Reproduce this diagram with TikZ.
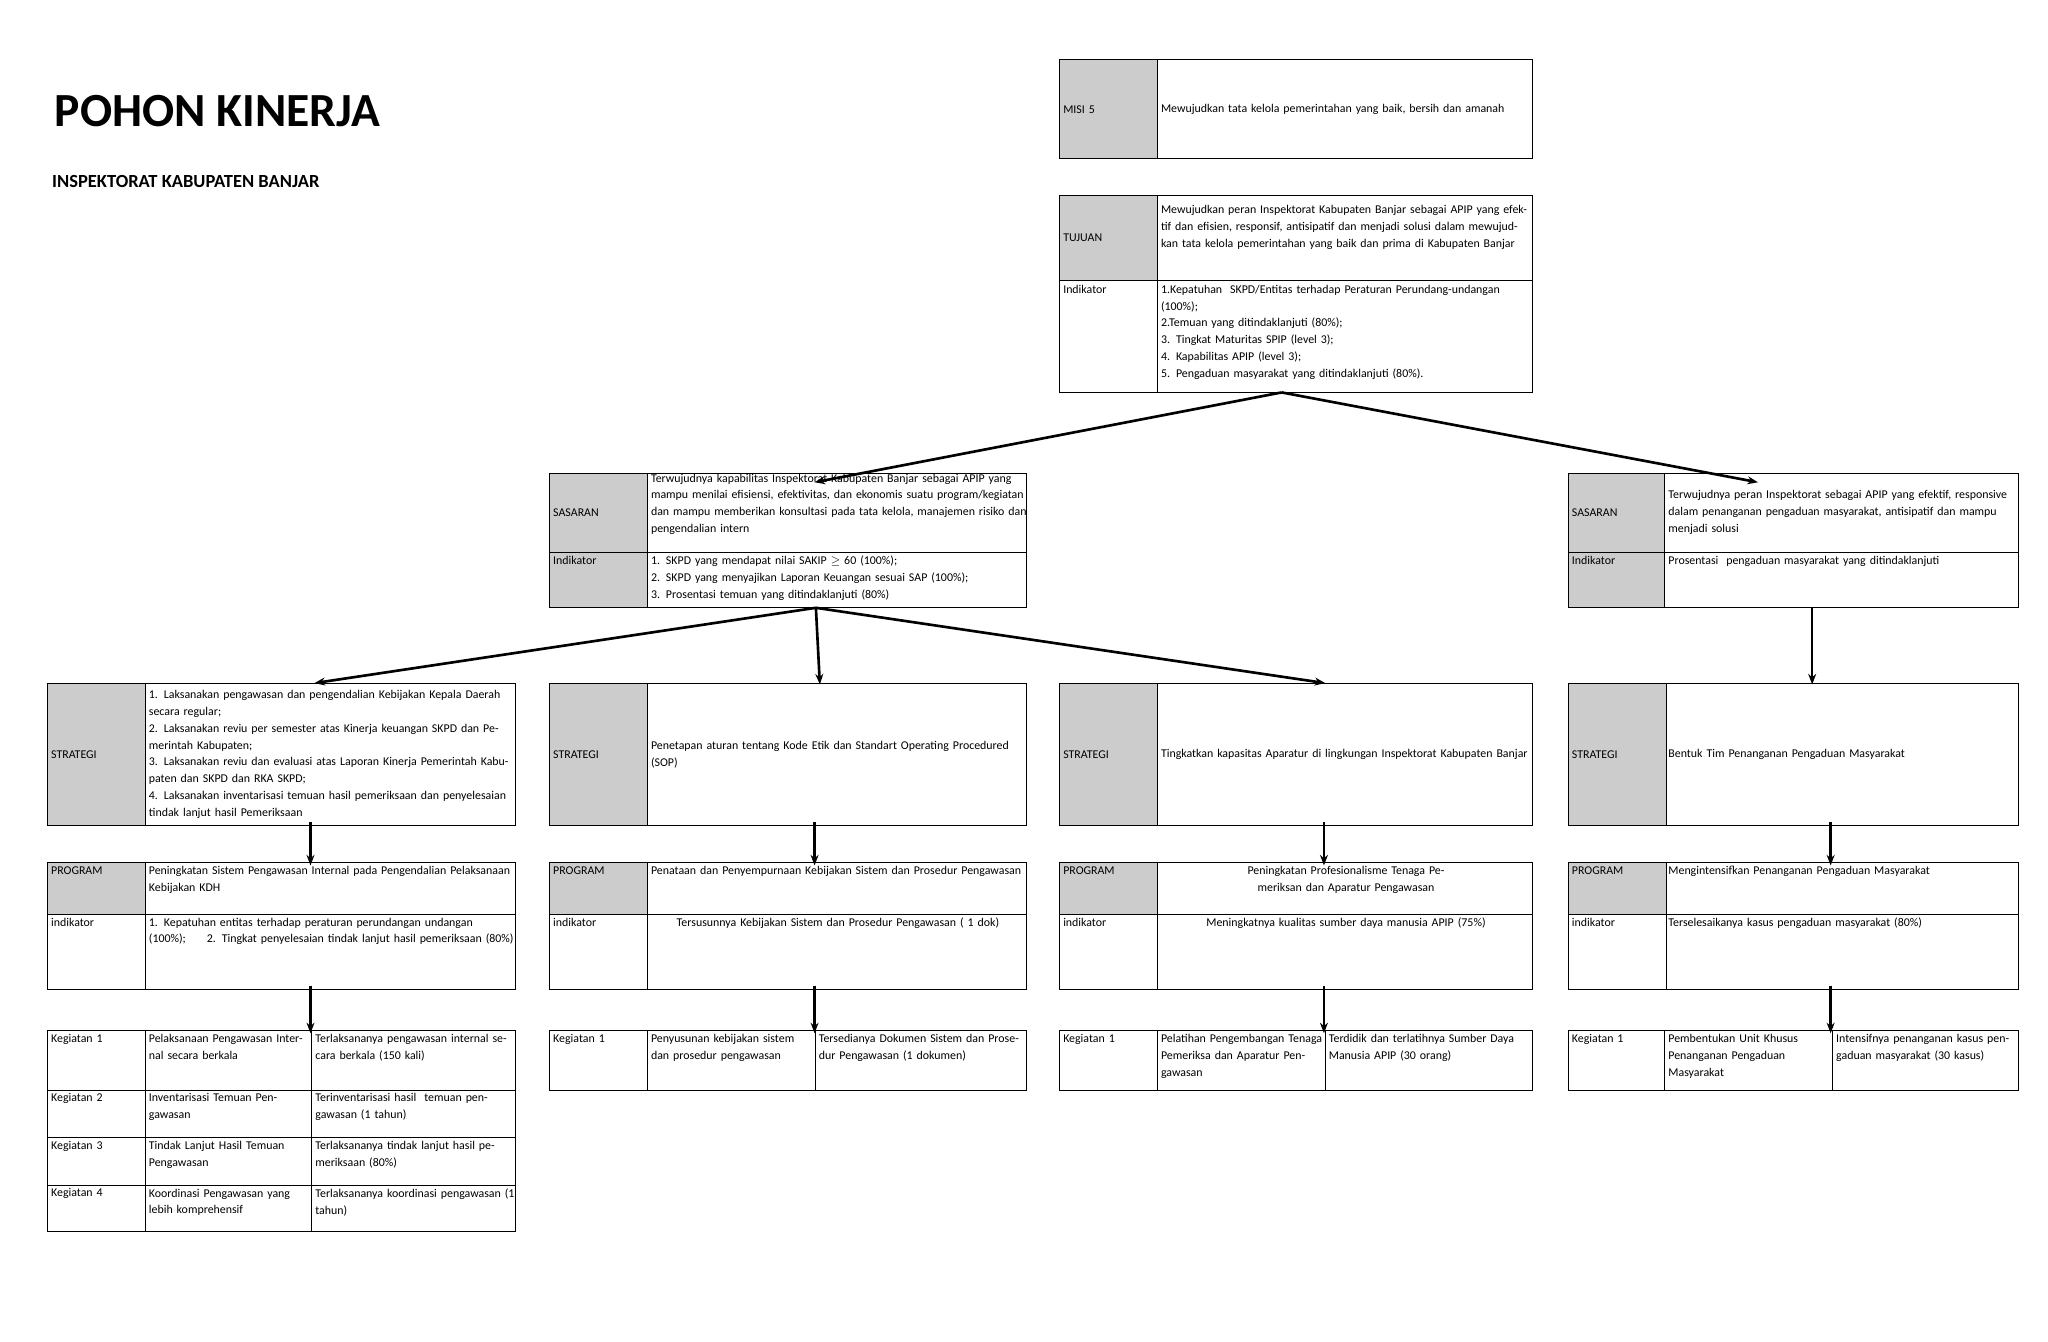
\documentclass[tikz,border=0pt]{standalone}
\usepackage{fontspec}
\setmainfont{Carlito}
\usetikzlibrary{arrows.meta}
\newcommand{\bx}[6]{%
 \pgfmathsetmacro\bw{#4-#2}\pgfmathsetmacro\bh{#5-#3}%
 \node[cellb,fill=#6,minimum width=\bw pt,minimum height=\bh pt] (#1) at (#2,#3) {};}
\newcommand{\tx}[4]{\node[txt,anchor=north west,text width=#3pt] at (#1+1,#2+1) {#4};}
\newcommand{\tc}[4]{\node[txt,anchor=west,text width=#3pt] at (#1+1,#2) {#4};}
\newcommand{\tm}[4]{\node[txt,anchor=north west,text width=#3pt,align=center] at (#1+1,#2+1) {#4};}
\begin{document}
\begin{tikzpicture}[x=1pt,y=-1pt,
 cellb/.style={draw,line width=0.8pt,anchor=north west,inner sep=0pt,outer sep=0pt},
 txt/.style={inner sep=1.5pt,align=left,font=\fontsize{9}{12.7}\selectfont},
 arr/.style={-{Stealth[length=8pt,width=6pt]},line width=2pt}]
\useasboundingbox (0,0) rectangle (1550,1015);
\definecolor{gr}{gray}{0.8}
\node[anchor=west,font=\bfseries\fontsize{36}{40}\selectfont] at (38,84) {POHON KINERJA};
\node[anchor=west,font=\bfseries\fontsize{14}{16}\selectfont] at (36,137) {INSPEKTORAT KABUPATEN BANJAR};
% MISI
\bx{misi}{802}{45}{1160}{120}{white}
\bx{misil}{802}{45}{876}{120}{gr}
\tc{802}{83}{70}{MISI 5}
\tc{876}{83}{280}{Mewujudkan tata kelola pemerintahan yang baik, bersih dan amanah}
% TUJUAN
\bx{tuj}{802}{148}{1160}{297}{white}
\bx{tujl}{802}{148}{876}{212}{gr}
\draw[line width=0.8pt] (802,212) -- (1160,212);
\draw[line width=0.8pt] (876,212) -- (876,297);
\tc{802}{180}{70}{TUJUAN}
\tx{876}{153}{280}{Mewujudkan peran Inspektorat Kabupaten Banjar sebagai APIP yang efektif dan efisien, responsif, antisipatif dan menjadi solusi dalam mewujudkan tata kelola pemerintahan yang baik dan prima di Kabupaten Banjar}
\tx{802}{213}{70}{Indikator}
\tx{876}{213}{282}{1.Kepatuhan~ SKPD/Entitas terhadap Peraturan Perundang-undangan (100\%);\\2.Temuan yang ditindaklanjuti (80\%);\\3. Tingkat Maturitas SPIP (level 3);\\4. Kapabilitas APIP (level 3);\\5. Pengaduan masyarakat yang ditindaklanjuti (80\%).}
% SASARAN L
\bx{sasL}{416}{358}{777}{460}{white}
\bx{sasLa}{416}{358}{490}{418}{gr}
\bx{sasLb}{416}{418}{490}{460}{gr}
\draw[line width=0.8pt] (490,418) -- (777,418);
\tc{416}{388}{70}{SASARAN}
\tx{490}{356}{285}{Terwujudnya kapabilitas Inspektorat Kabupaten Banjar sebagai APIP yang mampu menilai efisiensi, efektivitas, dan ekonomis suatu program/kegiatan dan mampu memberikan konsultasi pada tata kelola, manajemen risiko dan pengendalian intern}
\tx{416}{418}{70}{Indikator}
\tx{490}{418}{285}{1. SKPD yang mendapat nilai SAKIP $\geq$ 60 (100\%);\\2. SKPD yang menyajikan Laporan Keuangan sesuai SAP (100\%);\\3. Prosentasi temuan yang ditindaklanjuti (80\%)}
% SASARAN R
\bx{sasR}{1187}{358}{1528}{460}{white}
\bx{sasRa}{1187}{358}{1260}{418}{gr}
\bx{sasRb}{1187}{418}{1260}{460}{gr}
\draw[line width=0.8pt] (1260,418) -- (1528,418);
\tc{1187}{388}{70}{SASARAN}
\tc{1260}{388}{265}{Terwujudnya peran Inspektorat sebagai APIP yang efektif, responsive dalam penanganan pengaduan masyarakat, antisipatif dan mampu menjadi solusi}
\tx{1187}{418}{70}{Indikator}
\tx{1260}{418}{265}{Prosentasi~ pengaduan masyarakat yang ditindaklanjuti}
% STRATEGI
\foreach \n/\a/\b in {1/36/390,2/416/777,3/802/1160,4/1187/1528}{
 \pgfmathsetmacro\c{\a+74}
 \bx{str\n}{\a}{517}{\b}{625}{white}
 \bx{strl\n}{\a}{517}{\c}{625}{gr}
 \tc{\a}{571}{70}{STRATEGI}
 \bx{prg\n}{\a}{653}{\b}{749}{white}
 \bx{prgl\n}{\a}{653}{\c}{692}{gr}
 \draw[line width=0.8pt] (\a,692) -- (\b,692);
 \draw[line width=0.8pt] (\c,692) -- (\c,749);
 \tx{\a}{653}{70}{PROGRAM}
 \tx{\a}{692}{70}{indikator}
}
\tc{110}{571}{276}{1. Laksanakan pengawasan dan pengendalian Kebijakan Kepala Daerah secara regular;\\2. Laksanakan reviu per semester atas Kinerja keuangan SKPD dan Pemerintah Kabupaten;\\3. Laksanakan reviu dan evaluasi atas Laporan Kinerja Pemerintah Kabupaten dan SKPD dan RKA SKPD;\\4. Laksanakan inventarisasi temuan hasil pemeriksaan dan penyelesaian tindak lanjut hasil Pemeriksaan}
\tc{490}{571}{283}{Penetapan aturan tentang Kode Etik dan Standart Operating Procedured (SOP)}
\tc{876}{571}{280}{Tingkatkan kapasitas Aparatur di lingkungan Inspektorat Kabupaten Banjar}
\tc{1260}{571}{265}{Bentuk Tim Penanganan Pengaduan Masyarakat}
% PROGRAM texts
\tx{110}{653}{276}{Peningkatan Sistem Pengawasan Internal pada Pengendalian Pelaksanaan Kebijakan KDH}
\tx{110}{692}{276}{1. Kepatuhan entitas terhadap peraturan perundangan undangan (100\%);\hfill 2. Tingkat penyelesaian tindak lanjut hasil pemeriksaan (80\%)}
\tx{490}{653}{283}{Penataan dan Penyempurnaan Kebijakan Sistem dan Prosedur Pengawasan}
\tm{490}{692}{283}{Tersusunnya Kebijakan Sistem dan Prosedur Pengawasan ( 1 dok)}
\tm{876}{653}{280}{Peningkatan Profesionalisme Tenaga Pemeriksan dan Aparatur Pengawasan}
\tm{876}{692}{280}{Meningkatnya kualitas sumber daya manusia APIP (75\%)}
\tx{1260}{653}{265}{Mengintensifkan Penanganan Pengaduan Masyarakat}
\tx{1260}{692}{265}{Terselesaikanya kasus pengaduan masyarakat (80\%)}
% KEGIATAN
\foreach \n/\a/\p/\q/\b in {1/36/110/236/390,2/416/490/617/777,3/802/876/1003/1160,4/1187/1260/1387/1528}{
 \bx{keg\n}{\a}{780}{\b}{825}{white}
 \draw[line width=0.8pt] (\p,780) -- (\p,825) (\q,780) -- (\q,825);
 \tx{\a}{780}{70}{Kegiatan 1}
}
\foreach \y/\z/\k in {825/861/2,861/897/3,897/932/4}{
 \bx{kegL\k}{36}{\y}{390}{\z}{white}
 \draw[line width=0.8pt] (110,\y) -- (110,\z) (236,\y) -- (236,\z);
 \tx{36}{\y}{70}{Kegiatan \k}
}
\tx{110}{780}{122}{Pelaksanaan Pengawasan Internal secara berkala}
\tx{236}{780}{152}{Terlaksananya pengawasan internal secara berkala (150 kali)}
\tx{110}{825}{122}{Inventarisasi Temuan Pengawasan}
\tx{236}{825}{152}{Terinventarisasi hasil~ temuan pengawasan (1 tahun)}
\tx{110}{861}{122}{Tindak Lanjut Hasil Temuan Pengawasan}
\tx{236}{861}{152}{Terlaksananya tindak lanjut hasil pemeriksaan (80\%)}
\tx{110}{897}{122}{Koordinasi Pengawasan yang lebih komprehensif}
\tx{236}{897}{152}{Terlaksananya koordinasi pengawasan (1 tahun)}
\tx{490}{780}{124}{Penyusunan kebijakan sistem dan prosedur pengawasan}
\tx{617}{780}{156}{Tersedianya Dokumen Sistem dan Prosedur Pengawasan (1 dokumen)}
\tx{876}{780}{124}{Pelatihan Pengembangan Tenaga Pemeriksa dan Aparatur Pengawasan}
\tx{1003}{780}{154}{Terdidik dan terlatihnya Sumber Daya Manusia APIP (30 orang)}
\tx{1260}{780}{124}{Pembentukan Unit Khusus Penanganan Pengaduan Masyarakat}
\tx{1387}{780}{138}{Intensifnya penanganan kasus pengaduan masyarakat (30 kasus)}
% ARROWS
\draw[arr] ([xshift=-11pt]tuj.south) -- ([xshift=20pt,yshift=-7pt]sasL.north);
\draw[arr] ([xshift=-11pt]tuj.south) -- ([xshift=-27pt,yshift=-7pt]sasR.north);
\draw[arr] ([xshift=21pt]sasL.south) -- ([xshift=25pt]str1.north);
\draw[arr] ([xshift=21pt]sasL.south) -- ([xshift=24pt,yshift=-1pt]str2.north);
\draw[arr] ([xshift=21pt]sasL.south) -- ([xshift=22pt]str3.north);
\draw[arr] ([xshift=14pt]sasR.south) -- ([xshift=14pt,yshift=-1pt]str4.north);
\foreach \n/\dx in {1/22,2/20,3/21,4/28}{
 \draw[arr] ([xshift=\dx pt,yshift=3pt]str\n.south) -- ([xshift=\dx pt,yshift=-2pt]prg\n.north);
 \draw[arr] ([xshift=\dx pt,yshift=3pt]prg\n.south) -- ([xshift=\dx pt,yshift=-2pt]keg\n.north);
}
\end{tikzpicture}
\end{document}
